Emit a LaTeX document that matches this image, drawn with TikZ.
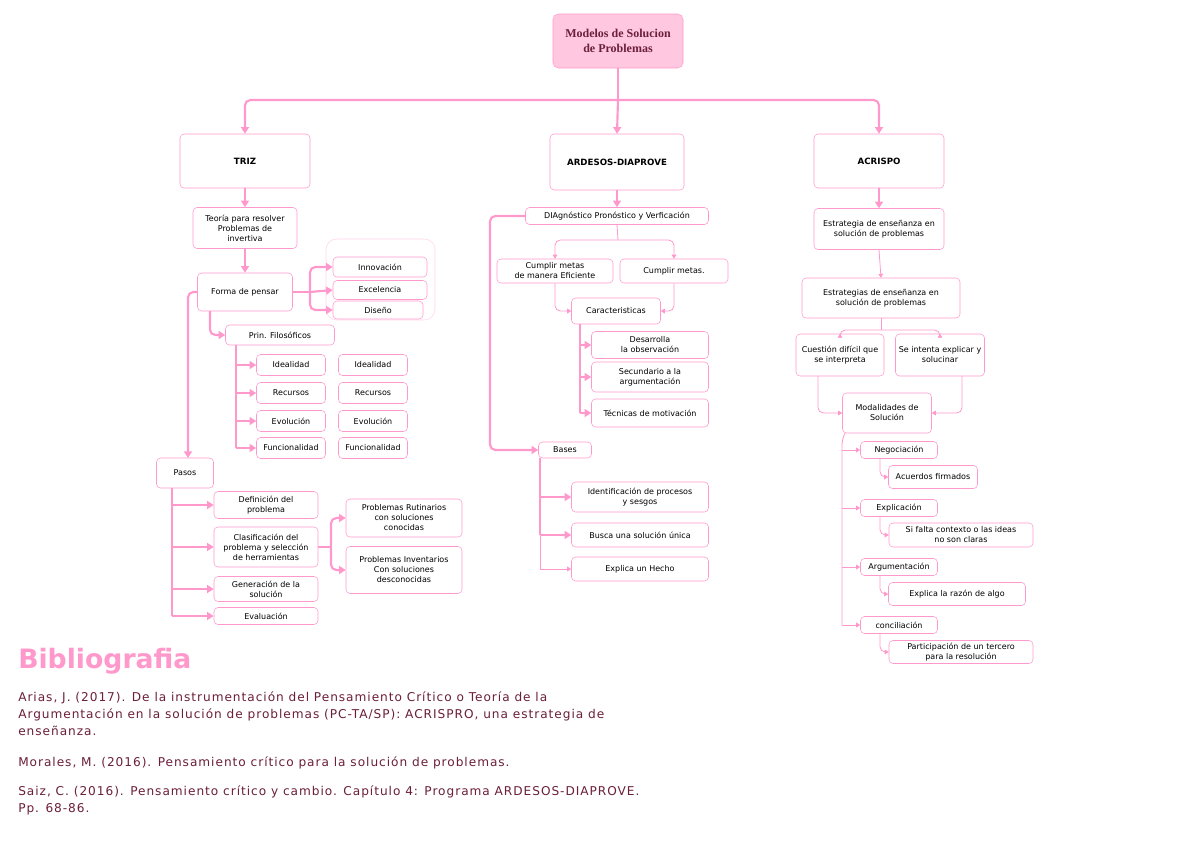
\documentclass[tikz,border=0pt]{standalone}
\usepackage{fontspec}
\setmainfont{DejaVu Sans}
\newfontfamily\titlefont{Liberation Serif}
\newfontfamily\bibfont[LetterSpace=8]{DejaVu Sans}
\usetikzlibrary{arrows.meta}
\definecolor{pk}{HTML}{FF99CC}
\definecolor{pkfill}{HTML}{FFC8E0}
\definecolor{bib}{HTML}{6B1F3A}
\tikzset{
 bx/.style={draw=pk, rounded corners=3pt, fill=white, align=center, inner sep=1pt, font=\fontsize{6}{7.5}\selectfont},
 thk/.style={draw=pk, line width=1.6pt, rounded corners=4pt, -{Triangle[length=5pt,width=6pt]}},
 thkn/.style={draw=pk, line width=1.6pt, rounded corners=4pt},
 thn/.style={draw=pk, line width=0.6pt, rounded corners=4pt, -{Triangle[length=3pt,width=3.5pt]}},
 thnn/.style={draw=pk, line width=0.6pt, rounded corners=4pt},
 bibt/.style={anchor=north west, inner sep=0, text=bib, align=left, font=\bibfont\fontsize{9.1}{12.6}\selectfont},
}
\newcommand{\bxn}[5]{\node[bx, minimum width=#3*0.75pt, minimum height=#4*0.75pt] (#1) at (#2) {#5};}
\begin{document}
\begin{tikzpicture}[x=0.75pt,y=-0.75pt]
\useasboundingbox (0,0) rectangle (1200,851);
\fill[white] (0,0) rectangle (1200,851);
% root
\node[draw=pk, fill=pkfill, rounded corners=4pt, minimum width=130*0.75pt, minimum height=54*0.75pt, align=center, font=\titlefont\bfseries\fontsize{9}{11}\selectfont, text=bib] (root) at (618,41) {Modelos de Solucion\\de Problemas};
\node[bx, minimum width=130*0.75pt, minimum height=54*0.75pt, font=\bfseries\fontsize{6.5}{8}\selectfont] (triz) at (245,161) {TRIZ};
\node[bx, minimum width=134*0.75pt, minimum height=56*0.75pt, font=\bfseries\fontsize{6.5}{8}\selectfont] (ard) at (617,162) {ARDESOS-DIAPROVE};
\node[bx, minimum width=130*0.75pt, minimum height=54*0.75pt, font=\bfseries\fontsize{6.5}{8}\selectfont] (acr) at (879,161) {ACRISPO};
\coordinate (j0) at (618,100);
\draw[thkn] (root.south) -- (j0);
\draw[thk] (j0) -| (triz.north);
\draw[thk] (j0) -| (acr.north);
\draw[thk] (j0) -- (ard.north);
% TRIZ branch
\draw[draw=pk!40, rounded corners=8pt, line width=0.4pt] (326,239) rectangle (435,320);
\bxn{teo}{245,228}{104}{41}{Teoría para resolver\\Problemas de\\invertiva}
\bxn{forma}{245,292}{95}{38}{Forma de pensar}
\bxn{inno}{380,267}{94}{20}{Innovación}
\bxn{exce}{380,290}{94}{19}{Excelencia}
\bxn{dise}{378,310}{90}{18}{Diseño}
\bxn{prin}{280,335}{109}{20}{Prin. Filosóficos}
\foreach \n/\t/\y in {i/Idealidad/365,r/Recursos/393,e/Evolución/421,f/Funcionalidad/448}{
 \bxn{\n a}{291,\y}{69}{21}{\t}
 \bxn{\n b}{373,\y}{69}{21}{\t}
}
\bxn{pasos}{185,473}{57}{30}{Pasos}
\bxn{defi}{266,505}{104}{27}{Definición del\\problema}
\bxn{clas}{266,547}{104}{40}{Clasificación del\\problema y selección\\de herramientas}
\bxn{gene}{266,589}{104}{25}{Generación de la\\solución}
\bxn{eval}{266,616}{104}{17}{Evaluación}
\bxn{ruti}{404,518}{116}{38}{Problemas Rutinarios\\con soluciones\\conocidas}
\bxn{inve}{404,570}{116}{47}{Problemas Inventarios\\Con soluciones\\desconocidas}
\draw[thk] (triz.south) -- (teo.north);
\draw[thk] (teo.south) -- (forma.north);
\coordinate (fj) at (310,292);
\draw[thkn] (forma.east) -- (fj);
\draw[thk] (fj) |- (inno.west);
\draw[thk] (fj) -- (exce.west);
\draw[thk] (fj) |- (dise.west);
\draw[thk] (210,311) |- (prin.west);
\draw[thk] (forma.west) -| (188,458);
\draw[thkn] (236,345) -- (236,448);
\foreach \n in {i,r,e,f}{ \draw[thk] (236,0 |- \n a.west) -- (\n a.west); }
\draw[thkn] (172,488) -- (172,616);
\foreach \n in {defi,clas,gene,eval}{ \draw[thk] (172,0 |- \n.west) -- (\n.west); }
\coordinate (cj) at (331,547);
\draw[thkn] (clas.east) -- (cj);
\draw[thk] (cj) |- (ruti.west);
\draw[thk] (cj) |- (inve.west);
% ARDESOS branch
\bxn{dia}{617,216}{183}{17}{DIAgnóstico Pronóstico y Verficación}
\bxn{cm1}{555,271}{116}{24}{Cumplir metas\\de manera Eficiente}
\bxn{cm2}{674,271}{108}{24}{Cumplir metas.}
\bxn{car}{616,311}{89}{26}{Caracteristicas}
\bxn{des}{650,345}{117}{27}{Desarrolla\\la observación}
\bxn{sec}{650,377}{117}{30}{Secundario a la\\argumentación}
\bxn{tec}{650,413}{117}{28}{Técnicas de motivación}
\bxn{bas}{565,450}{53}{16}{Bases}
\bxn{ide}{640,497}{137}{30}{Identificación de procesos\\y sesgos}
\bxn{bus}{640,535}{137}{24}{Busca una solución única}
\bxn{exh}{640,569}{137}{24}{Explica un Hecho}
\draw[thk] (ard.south) -- (dia.north);
\coordinate (dj) at (618,240);
\draw[thnn] (dia.south) -- (dj);
\draw[thn] (dj) -| (cm1.north);
\draw[thn] (dj) -| (cm2.north);
\draw[thn] (cm1.south) |- (car.west);
\draw[thn] (cm2.south) |- (car.east);
\draw[thkn] (580,324) -- (580,413);
\foreach \n in {des,sec,tec}{ \draw[thk] (580,0 |- \n.west) -- (\n.west); }
\draw[thk] (dia.west) -| (490,300) |- (bas.west);
\draw[thnn] (540,458) -- (540,569);
\draw[thkn] (540,458) -- (540,535);
\draw[thk] (540,0 |- ide.west) -- (ide.west);
\draw[thk] (540,0 |- bus.west) -- (bus.west);
\draw[thn] (540,0 |- exh.west) -- (exh.west);
% ACRISPO branch
\bxn{es1}{879,229}{130}{41}{Estrategia de enseñanza en\\solución de problemas}
\bxn{es2}{881,298}{158}{40}{Estrategias de enseñanza  en\\solución de problemas}
\bxn{cue}{840,355}{88}{42}{Cuestión difícil que\\se interpreta}
\bxn{sei}{940,355}{89}{42}{Se intenta explicar y\\solucinar}
\bxn{mod}{887,413}{89}{40}{Modalidades de\\Solución}
\bxn{neg}{899,450}{77}{17}{Negociación}
\bxn{acu}{933,477}{89}{23}{Acuerdos firmados}
\bxn{expl}{899,508}{77}{17}{Explicación}
\bxn{sif}{961,535}{144}{24}{Si falta contexto o las ideas\\no son claras}
\bxn{arg}{899,567}{77}{17}{Argumentación}
\bxn{exr}{957,594}{137}{23}{Explica la razón de algo}
\bxn{con}{899,625}{77}{17}{conciliación}
\bxn{par}{961,652}{144}{23}{Participación de un tercero\\para la resolución}
\draw[thk] (acr.south) -- (es1.north);
\draw[thn] (es1.south) -- (es2.north);
\coordinate (aj) at (881,330);
\draw[thnn] (es2.south) -- (aj);
\draw[thn] (aj) -| (cue.north);
\draw[thn] (aj) -| (sei.north);
\draw[thn] (818,376) |- (mod.west);
\draw[thn] (962,376) |- (mod.east);
\draw[thnn] (845,433) -- (842,440) -- (842,625);
\foreach \n in {neg,expl,arg,con}{ \draw[thn] (842,0 |- \n.west) -- (\n.west); }
\draw[thn] (880,458) |- (acu.west);
\draw[thn] (880,516) |- (sif.west);
\draw[thn] (880,575) |- (exr.west);
\draw[thn] (880,633) |- (par.west);
% Bibliography
\node[anchor=base west, inner sep=0, text=pk, font=\bfseries\fontsize{20}{22}\selectfont] (bt) at (18,668) {Bibliografia};
\node[bibt] (b1) at (18,692) {Arias,  J.  (2017).  De la instrumentación del Pensamiento Crítico o  Teoría de la\\Argumentación en la solución de problemas (PC-TA/SP): ACRISPRO, una estrategia de\\enseñanza.};
\node[bibt] (b2) at (18,757) {Morales,  M. (2016). Pensamiento crítico para la solución de problemas.};
\node[bibt] (b3) at (18,786) {Saiz, C. (2016). Pensamiento crítico y cambio.  Capítulo 4:  Programa  ARDESOS-DIAPROVE.\\Pp. 68-86.};
\end{tikzpicture}
\end{document}
